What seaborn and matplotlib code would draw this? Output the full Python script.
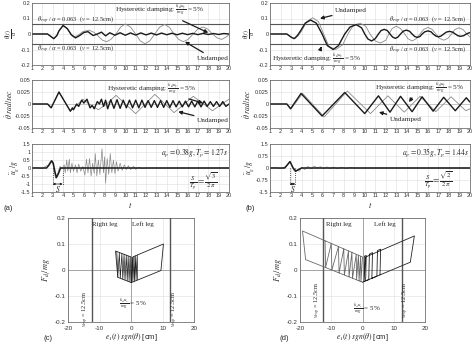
import numpy as np
import pandas as pd
import seaborn as sns
import matplotlib.pyplot as plt

# ---------------- data ----------------
# (a) left column: theta/alpha
ta1_u = [1.0, 2.5, 2.8, 3.1, 3.4, 3.6, 4.0, 4.4, 4.7, 5.0, 5.4, 5.9, 6.5, 7.0, 7.4, 7.8, 8.2, 8.6, 9.1, 9.55, 10.0,
         10.5, 11.0, 11.45, 11.9, 12.35, 12.85, 13.3, 13.8, 14.25, 14.7, 15.15, 15.6, 16.05, 16.55, 17.0, 17.5,
         17.95, 18.4, 18.85, 19.3, 19.7, 20.0]
th_a_undamped = [0, 0, -0.015, -0.03, -0.01, 0.02, 0.055, 0.035, 0.0, -0.02, -0.01, 0.015, 0.025, 0.01, -0.015,
                 -0.04, -0.05, -0.035, 0.0, 0.045, 0.065, 0.045, 0.0, -0.045, -0.063, -0.045, 0.0, 0.043, 0.062,
                 0.043, 0.0, -0.035, -0.05, -0.035, 0.0, 0.032, 0.045, 0.032, 0.0, -0.025, -0.035, -0.02, -0.005]
ta1_d = [1.0, 2.5, 2.8, 3.1, 3.4, 3.6, 4.0, 4.4, 4.8, 5.2, 5.6, 6.0, 6.4, 6.9, 7.3, 7.7, 8.1, 8.5, 9.0, 9.5, 10.0,
         10.5, 11.0, 11.5, 12.0, 12.5, 13.0, 13.5, 14.0, 14.5, 15.0, 15.5, 16.0, 16.5, 17.0, 17.5, 18.0, 18.5,
         19.0, 19.5, 20.0]
th_a_damped = [0, 0, -0.015, -0.03, -0.01, 0.02, 0.055, 0.035, -0.005, -0.025, -0.01, 0.01, 0.015, -0.01, 0.0,
               0.012, -0.012, 0.008, -0.008, 0.008, -0.008, 0.007, -0.007, 0.007, -0.006, 0.006, -0.006, 0.006,
               -0.005, 0.005, -0.005, 0.005, -0.004, 0.004, -0.004, 0.004, -0.003, 0.003, -0.003, 0.003, 0.0]

# (a) theta-dot
ta2_u = [1.0, 2.5, 2.85, 3.6, 4.7, 5.2, 5.9, 6.5, 7.4, 8.2, 9.1, 11.0, 12.85, 14.7, 16.55, 18.4, 20.0]
thd_a_undamped = [0, 0, -0.008, 0.025, -0.015, -0.005, 0.01, 0.0, -0.012, 0.0, 0.018, -0.02, 0.02, -0.018,
                  0.016, -0.014, 0.01]
ta2_d = [1.0, 2.5, 2.85, 3.6, 4.7, 4.9, 5.0, 5.3, 5.5, 5.8, 6.0, 6.3, 6.6, 6.8, 7.0, 7.3, 7.5, 7.7, 7.9, 8.1,
         8.3, 8.6, 8.9, 9.2, 9.5, 9.8, 10.1, 10.4, 10.7, 11.0, 11.3, 11.6, 11.9, 12.2, 12.5, 12.8, 13.1, 13.4,
         13.7, 14.0, 14.3, 14.6, 14.9, 15.2, 15.5, 15.8, 16.1, 16.4, 16.7, 17.0, 17.3, 17.6, 17.9, 18.2, 18.5,
         18.8, 19.1, 19.4, 19.7, 20.0]
thd_a_damped = [0, 0, -0.008, 0.025, -0.015, -0.008, -0.012, 0.0, -0.005, 0.008, 0.002, 0.01, -0.008, -0.003,
                -0.01, 0.005, 0.0, 0.01, -0.005, 0.008, -0.01, 0.009, -0.009, 0.009, -0.009, 0.008, -0.008,
                0.008, -0.008, 0.008, -0.008, 0.008, -0.007, 0.007, -0.007, 0.007, -0.007, 0.007, -0.007, 0.007,
                -0.007, 0.007, -0.006, 0.006, -0.006, 0.006, -0.006, 0.006, -0.006, 0.006, -0.006, 0.006, -0.005,
                0.005, -0.005, 0.005, -0.005, 0.005, -0.005, 0.0]

# (a) ground acceleration record and pulse
ta3_rec = [1.0, 1.5, 2.0, 2.3, 2.6, 2.8, 3.0, 3.1, 3.3, 3.5, 3.7, 3.9, 4.1, 4.2, 4.35, 4.45, 4.6, 4.7, 4.85, 5.0,
           5.2, 5.35, 5.5, 5.7, 5.9, 6.1, 6.25, 6.4, 6.55, 6.7, 6.85, 7.0, 7.1, 7.25, 7.4, 7.55, 7.75, 7.9, 8.0,
           8.1, 8.25, 8.4, 8.55, 8.7, 8.85, 9.0, 9.15, 9.3, 9.5, 9.7, 9.9, 10.1, 10.3, 10.5, 10.8, 11.0, 11.3,
           11.6, 12.0, 20.0]
ug_a_record = [0, 0.02, -0.05, 0.1, 0.2, 0.45, 0.3, -0.1, -0.65, -0.3, 0.1, -0.05, 0.2, -0.3, 0.5, -0.2, 0.55,
               -0.3, 0.3, -0.2, 0.2, -0.3, 0.25, -0.2, 0.1, -0.45, 0.55, -0.3, 0.6, -0.5, 0.3, -0.35, 0.9, -0.5,
               0.5, -0.4, 1.2, -0.3, 0.7, -0.95, 0.6, -0.4, 0.9, -0.3, 0.5, -0.35, 0.4, -0.2, 0.3, -0.15, 0.2,
               -0.1, 0.15, -0.1, 0.1, -0.08, 0.05, -0.04, 0.0, 0.0]
ta3_pul = [1.0, 2.4, 2.6, 2.9, 3.05, 3.2, 3.35, 3.55, 3.75, 20.0]
ug_a_pulse = [0, 0, 0.15, 0.45, 0.3, -0.2, -0.6, -0.35, 0.0, 0.0]

# (b) right column: theta/alpha
tb1_u = [1.0, 2.6, 3.0, 3.35, 3.7, 4.0, 4.5, 5.05, 5.6, 6.1, 6.6, 7.25, 7.9, 8.4, 8.9, 9.55, 10.1, 10.5, 11.0,
         11.5, 12.0, 12.3, 12.6, 13.0, 13.4, 13.8, 14.1, 14.5, 14.9, 15.25, 15.6, 16.0, 16.4, 16.75, 17.1, 17.5,
         17.9, 18.25, 18.55, 18.95, 19.35, 19.7, 20.0]
th_b_undamped = [0, 0, -0.02, -0.03, -0.01, 0.02, 0.08, 0.105, 0.08, 0.0, -0.08, -0.1, -0.07, 0.0, 0.055, 0.07,
                 0.05, 0.0, -0.045, -0.058, -0.04, 0.0, 0.035, 0.05, 0.035, 0.0, -0.03, -0.045, -0.03, 0.0, 0.03,
                 0.042, 0.03, 0.0, -0.028, -0.04, -0.028, 0.0, 0.028, 0.04, 0.028, 0.0, -0.02]
tb1_d = [1.0, 2.6, 3.0, 3.3, 3.6, 3.9, 4.35, 4.85, 5.4, 5.95, 6.45, 7.0, 7.5, 8.1, 8.6, 9.2, 9.7, 10.0, 10.3,
         10.65, 11.0, 11.3, 11.55, 11.85, 12.15, 12.4, 12.65, 12.9, 13.15, 13.4, 13.65, 13.95, 14.25, 14.5,
         14.75, 15.0, 15.25, 15.45, 15.7, 16.0, 16.3, 16.5, 16.75, 17.0, 17.25, 17.5, 17.75, 18.05, 18.35, 18.6,
         18.85, 19.1, 19.4, 19.65, 20.0]
th_b_damped = [0, 0, -0.02, -0.03, -0.01, 0.02, 0.07, 0.09, 0.07, 0.0, -0.075, -0.1, -0.075, 0.0, 0.045, 0.06,
               0.04, 0.0, -0.032, -0.045, -0.03, 0.0, 0.022, 0.03, 0.022, 0.0, -0.02, -0.028, -0.02, 0.0, 0.018,
               0.025, 0.018, 0.0, -0.016, -0.022, -0.016, 0.0, 0.014, 0.02, 0.014, 0.0, -0.013, -0.018, -0.013,
               0.0, 0.012, 0.017, 0.012, 0.0, -0.011, -0.015, -0.011, 0.0, 0.01]

# (b) theta-dot
tb2_u = [1.0, 2.6, 3.0, 4.1, 6.15, 8.35, 10.55, 12.2, 13.75, 15.25, 16.75, 18.2, 19.6, 20.0]
thd_b_undamped = [0, 0, -0.01, 0.022, -0.027, 0.027, -0.02, 0.017, -0.017, 0.016, -0.016, 0.015, -0.014, -0.01]
tb2_d = [1.0, 2.6, 2.95, 3.95, 5.95, 8.1, 10.0, 11.3, 12.4, 13.4, 14.5, 15.45, 16.5, 17.5, 18.6, 19.65, 20.0]
thd_b_damped = [0, 0, -0.01, 0.022, -0.025, 0.024, -0.02, 0.017, -0.017, 0.016, -0.016, 0.015, -0.015, 0.014,
                -0.014, 0.013, 0.004]

# (b) ground acceleration record and pulse
tb3_rec = [1.0, 1.5, 2.0, 2.3, 2.6, 2.9, 3.1, 3.3, 3.6, 3.8, 4.0, 4.3, 4.6, 4.9, 5.2, 5.5, 5.8, 6.1, 6.4, 6.7,
           7.0, 7.4, 7.8, 8.2, 8.6, 9.0, 20.0]
ug_b_record = [0, 0.02, -0.03, 0.02, 0.15, 0.42, 0.1, -0.2, -0.15, -0.2, 0.05, -0.1, 0.1, -0.05, 0.12, 0.0,
               0.08, -0.05, 0.07, -0.04, 0.06, -0.04, 0.05, -0.03, 0.03, 0.0, 0.0]
tb3_pul = [1.0, 2.4, 2.9, 3.2, 3.45, 3.7, 4.0, 20.0]
ug_b_pulse = [0, 0, 0.4, 0.0, -0.2, -0.1, 0.0, 0.0]

# (c) hysteresis e1 [cm], F/mg
c_outer_e = [0.0, -4.2, -4.9, 0.0, 0.2, 9.5, 10.3, 0.7, 0.2]
c_outer_F = [-0.048, -0.028, 0.073, 0.05, -0.048, -0.002, 0.1, 0.051, -0.048]
c_fan_e = [-4.5, -4.2, -3.7, -3.4, -2.9, -2.6, -2.2, -1.9, -1.5, -1.2, -0.9, -0.6, -0.3, 0.0, 0.5, 0.6, 1.0,
           1.1, 1.5, 1.6, 2.0, 2.1]
c_fan_F = [0.071, -0.028, 0.067, -0.032, 0.064, -0.036, 0.06, -0.039, 0.057, -0.042, 0.054, -0.045, 0.051,
           -0.048, 0.05, -0.045, 0.052, -0.043, 0.054, -0.04, 0.057, -0.038]

# (d) hysteresis
d_left_e = [0.0, -18.2, -19.2, 0.0, -0.5, -0.6, -1.1, -1.3, -1.9, -2.0, -3.2, -3.4, -4.3, -4.5, -5.8, -6.0,
            -7.5, -7.7, -9.8, -10.0, -11.8, -12.0]
d_left_F = [-0.047, 0.04, 0.15, 0.05, -0.045, 0.053, -0.042, 0.057, -0.038, 0.06, -0.032, 0.068, -0.026, 0.073,
            -0.019, 0.081, -0.011, 0.09, 0.0, 0.102, 0.01, 0.112]
d_right_e = [0.0, 15.3, 16.6, 1.0, 0.5, 0.6, 1.2, 1.0, 2.0, 2.2, 3.2, 3.0, 4.6, 4.8, 5.8, 5.6]
d_right_F = [-0.047, 0.03, 0.131, 0.05, -0.045, 0.053, 0.056, -0.042, -0.037, 0.061, 0.067, -0.032, -0.024,
             0.075, 0.08, -0.019]

t_ticks = list(range(1, 21))

# ---------------- style ----------------
sns.set_theme(style="whitegrid")
plt.rcParams['font.family'] = ['Liberation Sans', 'DejaVu Sans']
plt.rcParams['mathtext.fontset'] = 'stix'
SERIF = ['Liberation Serif', 'DejaVu Serif']
GRAY = '#8a8a8a'
LINE = '#555555'

fig = plt.figure(figsize=(4.74, 3.45), dpi=100)
W, H = 474.0, 345.0


def rect(x0, y0, x1, y1):
    return [x0 / W, 1 - y1 / H, (x1 - x0) / W, (y1 - y0) / H]


def style(ax, xlim, ylim, xticks, yticks, ylabs, xlabs=None):
    ax.set_xlim(*xlim)
    ax.set_ylim(*ylim)
    ax.set_xticks(xticks)
    ax.set_yticks(yticks)
    ax.set_yticklabels(ylabs)
    if xlabs is not None:
        ax.set_xticklabels(xlabs)
    ax.grid(True, color='#dedede', lw=0.4)
    ax.tick_params(labelsize=4, pad=1, length=0, colors='#333333')
    for s in ax.spines.values():
        s.set_color('#555555')
        s.set_linewidth(0.5)
    ax.set_xlabel('')
    ax.set_ylabel('')


def ann(ax, txt, xy, xytext, ha='left', fs=5.2):
    ax.annotate(txt, xy=xy, xytext=xytext, ha=ha, va='center', fontsize=fs, family=SERIF,
                arrowprops=dict(arrowstyle='-|>', color='k', lw=0.9, mutation_scale=5, shrinkA=0, shrinkB=0))


hyst = r'Hysteretic damping: $\frac{k_d u_y}{mg}$ = 5%'
thexp = r'$\theta_{exp}$ / $\alpha$ = 0.063  ($v$ = 12.5cm)'

for col, (x0, x1) in enumerate([(32, 229), (270, 470)]):
    a1 = fig.add_axes(rect(x0, 3, x1, 65))
    a2 = fig.add_axes(rect(x0, 80, x1, 128))
    a3 = fig.add_axes(rect(x0, 144, x1, 192))
    if col == 0:
        tu, thu, td, thd = ta1_u, th_a_undamped, ta1_d, th_a_damped
        t2u, v2u, t2d, v2d = ta2_u, thd_a_undamped, ta2_d, thd_a_damped
        tr, vr, tp, vp = ta3_rec, ug_a_record, ta3_pul, ug_a_pulse
    else:
        tu, thu, td, thd = tb1_u, th_b_undamped, tb1_d, th_b_damped
        t2u, v2u, t2d, v2d = tb2_u, thd_b_undamped, tb2_d, thd_b_damped
        tr, vr, tp, vp = tb3_rec, ug_b_record, tb3_pul, ug_b_pulse

    # theta
    a1.axhline(0.063, color=LINE, lw=0.8)
    a1.axhline(-0.063, color=LINE, lw=0.8)
    sns.lineplot(x=tu, y=thu, ax=a1, color=GRAY, lw=0.6, sort=False, estimator=None)
    sns.lineplot(x=td, y=thd, ax=a1, color='k', lw=1.0, sort=False, estimator=None)
    style(a1, (1, 20), (-0.2, 0.2), t_ticks, [-0.2, -0.1, 0, 0.1, 0.2], ['-0.2', '-0.1', '0', '0.1', '0.2'])
    # theta dot
    a2.axhline(0, color='#aaaaaa', lw=0.4)
    sns.lineplot(x=t2u, y=v2u, ax=a2, color=GRAY, lw=0.6, sort=False, estimator=None)
    sns.lineplot(x=t2d, y=v2d, ax=a2, color='k', lw=1.0, sort=False, estimator=None)
    style(a2, (1, 20), (-0.05, 0.05), t_ticks, [-0.05, -0.025, 0, 0.025, 0.05],
          ['-0.05', '-0.025', '0', '0.025', '0.05'])
    # acceleration
    sns.lineplot(x=tr, y=vr, ax=a3, color=GRAY, lw=0.5, sort=False, estimator=None)
    sns.lineplot(x=tp, y=vp, ax=a3, color='k', lw=1.1, sort=False, estimator=None)
    if col == 0:
        style(a3, (1, 20), (-1.5, 1.5), t_ticks, [-1.5, -1, -0.5, 0, 0.5, 1, 1.5],
              ['-1.5', '-1', '-0.5', '0', '0.5', '1', '1.5'])
    else:
        style(a3, (1, 20), (-1.5, 1.5), t_ticks, [-1.5, -0.75, 0, 0.75, 1.5],
              ['-1.5', '-0.75', '0', '0.75', '1.5'])
    a3.set_xlabel('$t$', fontsize=6, labelpad=1)

    a1.set_ylabel(r'$\frac{\theta(t)}{\alpha}$', fontsize=6, labelpad=1)
    a2.set_ylabel(r'$\dot{\theta}\ rad/sec$', fontsize=5.5, labelpad=0)
    a3.set_ylabel(r'$\ddot{u}_g/g$', fontsize=5.5, labelpad=0)

    if col == 0:
        a1.text(1.5, 0.095, thexp, fontsize=4.6, family=SERIF, va='center')
        a1.text(1.5, -0.092, thexp, fontsize=4.6, family=SERIF, va='center')
        ann(a1, hyst, (18.0, 0.008), (9.0, 0.155))
        ann(a1, 'Undamped', (15.75, -0.05), (20.0, -0.157), ha='right')
        ann(a2, hyst, (17.5, 0.002), (8.2, 0.033))
        ann(a2, 'Undamped', (15.1, -0.016), (20.0, -0.034), ha='right')
        a3.text(19.9, 0.95, r'$a_p = 0.38g, T_p = 1.27s$', fontsize=5.5, ha='right', va='center')
        a3.text(17.5, -0.85, r'$\frac{S}{T_p} = \frac{\sqrt{3}}{2\pi}$', fontsize=6.5, ha='center', va='center')
        s0, s1 = 3.0, 3.95
        fig.text(3 / W, 1 - 208 / H, '(a)', fontsize=5.5, va='center')
    else:
        a1.text(12.3, 0.094, thexp, fontsize=4.6, family=SERIF, va='center')
        a1.text(12.3, -0.098, thexp, fontsize=4.6, family=SERIF, va='center')
        ann(a1, 'Undamped', (5.75, 0.1), (7.2, 0.15))
        ann(a1, hyst, (5.9, -0.08), (1.2, -0.16))
        ann(a2, hyst, (14.2, 0.004), (11.0, 0.035))
        ann(a2, 'Undamped', (11.35, -0.017), (12.4, -0.032))
        a3.text(19.9, 0.95, r'$a_p = 0.35g, T_p = 1.44s$', fontsize=5.5, ha='right', va='center')
        a3.text(17.0, -0.75, r'$\frac{S}{T_p} = \frac{\sqrt{2}}{2\pi}$', fontsize=6.5, ha='center', va='center')
        s0, s1 = 2.87, 3.4
        fig.text(246 / W, 1 - 208 / H, '(b)', fontsize=5.5, va='center')
    a3.plot([s0, s0], [0, -1.05], ls=':', color='k', lw=0.6)
    a3.plot([s1, s1], [0, -1.05], ls=':', color='k', lw=0.6)
    a3.annotate('', xy=(s0, -1.0), xytext=(s1, -1.0),
                arrowprops=dict(arrowstyle='<|-|>', color='k', lw=0.5, mutation_scale=3, shrinkA=0, shrinkB=0))
    a3.text((s0 + s1) / 2, -1.3, '$S$', fontsize=5.5, ha='center', va='center')

# ---------------- (c), (d) ----------------
for col, (x0, x1) in enumerate([(68, 194), (300, 425)]):
    ax = fig.add_axes(rect(x0, 218, x1, 322))
    ax.axhline(0, color='#999999', lw=0.6)
    ax.axvline(0, color='#999999', lw=0.6)
    ax.axvline(-12.5, color='#555555', lw=1.0)
    ax.axvline(12.5, color='#555555', lw=1.0)
    if col == 0:
        sns.lineplot(x=c_outer_e, y=c_outer_F, ax=ax, color='#222222', lw=0.6, sort=False, estimator=None)
        sns.lineplot(x=c_fan_e, y=c_fan_F, ax=ax, color='#222222', lw=0.5, sort=False, estimator=None)
        fig.text(43 / W, 1 - 339 / H, '(c)', fontsize=5.5, va='center')
        rl, ll, kx, ky, vy = -8.3, 3.8, 0.5, -0.13, -0.15
    else:
        sns.lineplot(x=d_left_e, y=d_left_F, ax=ax, color='#6a6a6a', lw=0.6, sort=False, estimator=None)
        sns.lineplot(x=d_right_e, y=d_right_F, ax=ax, color='#222222', lw=0.6, sort=False, estimator=None)
        fig.text(280 / W, 1 - 339 / H, '(d)', fontsize=5.5, va='center')
        rl, ll, kx, ky, vy = -7.6, 7.0, 1.3, -0.147, -0.115
    style(ax, (-20, 20), (-0.2, 0.2), [-20, -10, 0, 10, 20], [-0.2, -0.1, 0, 0.1, 0.2],
          ['-0.2', '-0.1', '0', '0.1', '0.2'], ['-20', '-10', '0', '10', '20'])
    ax.tick_params(axis='x', labelsize=4.5, pad=3)
    ax.tick_params(axis='y', labelsize=4.5, pad=2)
    ax.text(rl, 0.176, 'Right leg', fontsize=5, family=SERIF, ha='center', va='center')
    ax.text(ll, 0.176, 'Left leg', fontsize=5, family=SERIF, ha='center', va='center')
    ax.text(kx, ky, r'$\frac{k_d u_y}{mg}$ = 5%', fontsize=5, family=SERIF, ha='center', va='center')
    ax.text(-14.2, vy, r'$v_{exp}$ = 12.5cm', fontsize=4.5, family=SERIF, rotation=90, ha='center', va='center')
    ax.text(14.0, vy, r'$v_{exp}$ = 12.5cm', fontsize=4.5, family=SERIF, rotation=90, ha='center', va='center')
    ax.set_ylabel(r'$F_{d_i}/mg$', fontsize=6, labelpad=1)
    ax.set_xlabel(r'$e_1(t)\ sgn(\theta)$ [cm]', fontsize=5.5, labelpad=0)

fig.savefig('out.png', dpi=100)
